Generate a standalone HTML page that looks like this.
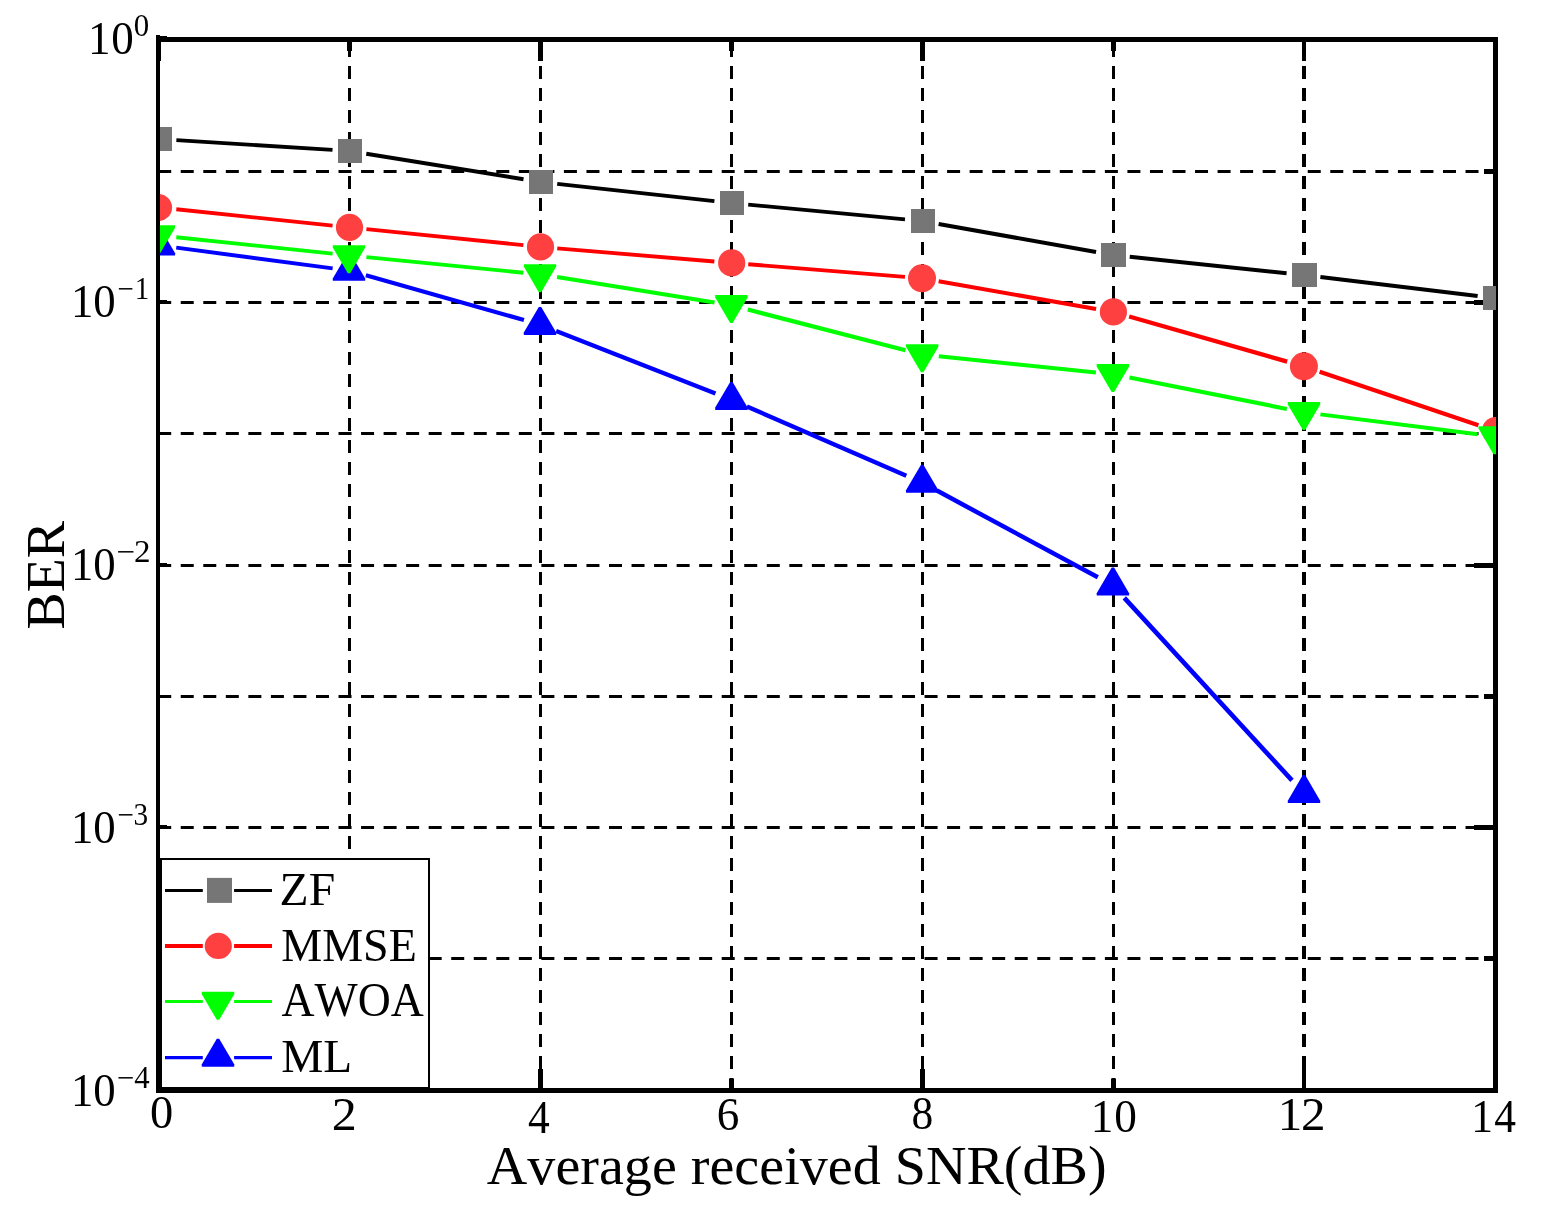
<!DOCTYPE html>
<html lang="en">
<head>
<meta charset="utf-8">
<title>BER versus average received SNR</title>
<style>
html,body{margin:0;padding:0;background:#fff;}
body{width:1557px;height:1222px;overflow:hidden;}
svg{display:block;}
text{font-family:"Liberation Serif","DejaVu Serif",serif;fill:#000;font-kerning:none;font-variant-ligatures:none;white-space:pre;}
</style>
</head>
<body>
<svg width="1557" height="1222" viewBox="0 0 1557 1222">
<rect width="1557" height="1222" fill="#fff"/>
<defs><clipPath id="plot"><rect x="160" y="39" width="1336" height="1052"/></clipPath></defs>
<g id="grid" fill="none" stroke="#000">
<path d="M158.2 171.5H1494" stroke-width="3" stroke-dasharray="13 9.54"/>
<path d="M158.2 302.5H1494" stroke-width="3" stroke-dasharray="13 9.54"/>
<path d="M158.2 433.5H1494" stroke-width="3" stroke-dasharray="13 9.54"/>
<path d="M158.2 565.5H1494" stroke-width="3" stroke-dasharray="13 9.54"/>
<path d="M158.2 696.5H1494" stroke-width="3" stroke-dasharray="13 9.54"/>
<path d="M158.2 827.5H1494" stroke-width="3" stroke-dasharray="13 9.54"/>
<path d="M158.2 958.5H1494" stroke-width="3" stroke-dasharray="13 9.54"/>
<path d="M349.5 44V1089" stroke-width="3" stroke-dasharray="13 9"/>
<path d="M540.5 44V1089" stroke-width="3" stroke-dasharray="13 9"/>
<path d="M731.5 44V1089" stroke-width="3" stroke-dasharray="13 9"/>
<path d="M922.5 44V1089" stroke-width="3" stroke-dasharray="13 9"/>
<path d="M1113.5 44V1089" stroke-width="3" stroke-dasharray="13 9"/>
<path d="M1304 44V1089" stroke-width="4" stroke-dasharray="13 9"/>
</g>
<g id="axes" fill="#000">
<rect x="156" y="35" width="4" height="1058"/>
<rect x="1493" y="37" width="5" height="1056"/>
<rect x="156" y="37" width="1342" height="5"/>
<rect x="156" y="1088" width="1342" height="5"/>
<rect x="160" y="36" width="7" height="2"/>
<rect x="160" y="42" width="1" height="19"/>
<rect x="347" y="42" width="5" height="9"/>
<rect x="347" y="1078.4" width="5" height="9.6"/>
<rect x="538" y="42" width="5" height="19"/>
<rect x="538" y="1069" width="5" height="19"/>
<rect x="729" y="42" width="5" height="9"/>
<rect x="729" y="1078.4" width="5" height="9.6"/>
<rect x="920" y="42" width="5" height="19"/>
<rect x="920" y="1069" width="5" height="19"/>
<rect x="1111" y="42" width="5" height="9"/>
<rect x="1111" y="1078.4" width="5" height="9.6"/>
<rect x="1302" y="42" width="4" height="19"/>
<rect x="1302" y="1069" width="4" height="19"/>
<rect x="1484" y="169" width="9" height="5"/>
<rect x="160" y="300" width="7" height="4"/>
<rect x="1474" y="300" width="19" height="5"/>
<rect x="1484" y="431" width="9" height="5"/>
<rect x="160" y="563" width="7" height="4"/>
<rect x="1474" y="563" width="19" height="5"/>
<rect x="1484" y="694" width="9" height="5"/>
<rect x="160" y="825" width="7" height="4"/>
<rect x="1474" y="825" width="19" height="5"/>
<rect x="1484" y="956" width="9" height="5"/>
</g>
<g id="series" clip-path="url(#plot)">
<g id="series-ml">
<g fill="none" stroke="#0000ff"><path d="M176.25 247.63L332.65 268.37" stroke-width="3.97"/><path d="M365.86 275.24L523.94 320.06" stroke-width="4.22"/><path d="M556.12 330.91L715.48 393.49" stroke-width="4.36"/><path d="M746.89 406.47L906.31 475.73" stroke-width="4.4"/><path d="M936.86 490.57L1097.84 577.33" stroke-width="4.49"/><path d="M1124.3 597.92L1292 780.38" stroke-width="4.62"/></g>
<path d="M142.7 255.6H175.1V253.2L160.1 227.6H157.7L142.7 253.2Z" fill="#0000ff"/>
<path d="M332.8 280.8H365.2V278.4L350.2 252.8H347.8L332.8 278.4Z" fill="#0000ff"/>
<path d="M523.8 334.9H556.2V332.5L541.2 306.9H538.8L523.8 332.5Z" fill="#0000ff"/>
<path d="M715.2 409.9H747.6V407.5L732.6 381.9H730.2L715.2 407.5Z" fill="#0000ff"/>
<path d="M906 492.7H938.4V490.3L923.4 464.7H921L906 490.3Z" fill="#0000ff"/>
<path d="M1096.7 595.6H1129.1V593.2L1114.1 567.6H1111.7L1096.7 593.2Z" fill="#0000ff"/>
<path d="M1287.8 803.1H1320.2V800.7L1305.2 775.1H1302.8L1287.8 800.7Z" fill="#0000ff"/>
</g>
<g id="series-zf">
<g fill="none" stroke="#000"><path d="M176.37 140.07L332.53 149.93" stroke-width="3.84"/><path d="M366.28 153.73L523.52 179.27" stroke-width="4.03"/><path d="M557.2 183.86L714.4 201.14" stroke-width="3.93"/><path d="M748.22 204.6L904.98 219.4" stroke-width="3.9"/><path d="M938.64 223.98L1096.06 252.02" stroke-width="4.05"/><path d="M1129.71 256.77L1286.59 273.23" stroke-width="3.92"/><path d="M1320.38 277.03L1477.62 295.97" stroke-width="3.95"/></g>
<rect x="148" y="127" width="24" height="24" fill="#767676"/>
<rect x="338" y="139" width="24" height="24" fill="#767676"/>
<rect x="529" y="170" width="24" height="24" fill="#767676"/>
<rect x="720" y="191" width="24" height="24" fill="#767676"/>
<rect x="911" y="209" width="24" height="24" fill="#767676"/>
<rect x="1101" y="243" width="25" height="24" fill="#767676"/>
<rect x="1292" y="263" width="25" height="24" fill="#767676"/>
<rect x="1483" y="286" width="24" height="24" fill="#767676"/>
</g>
<g id="series-mmse">
<g fill="none" stroke="#ff0000"><path d="M176.31 209.27L332.59 225.63" stroke-width="3.92"/><path d="M366.41 229.13L523.39 245.17" stroke-width="3.91"/><path d="M557.24 248.32L714.36 261.48" stroke-width="3.88"/><path d="M748.24 264.27L904.96 276.93" stroke-width="3.87"/><path d="M938.64 281.25L1096.06 308.95" stroke-width="4.05"/><path d="M1129.15 316.56L1287.15 361.64" stroke-width="4.22"/><path d="M1319.61 371.72L1478.39 425.18" stroke-width="4.29"/></g>
<circle cx="158.5" cy="207.5" r="13.6" fill="#ff4040"/>
<circle cx="349.5" cy="227.4" r="13.6" fill="#ff4040"/>
<circle cx="540.5" cy="246.9" r="13.6" fill="#ff4040"/>
<circle cx="731.7" cy="262.9" r="13.6" fill="#ff4040"/>
<circle cx="922" cy="278.3" r="14" fill="#ff4040"/>
<circle cx="1113.4" cy="311.9" r="13.6" fill="#ff4040"/>
<circle cx="1303.9" cy="366.3" r="14" fill="#ff4040"/>
<circle cx="1495.5" cy="430.6" r="13.6" fill="#ff4040"/>
</g>
<g id="series-awoa">
<g fill="none" stroke="#00ff00"><path d="M176.31 237.27L332.59 253.63" stroke-width="3.92"/><path d="M366.42 257.08L523.38 272.72" stroke-width="3.91"/><path d="M557.08 277.11L714.52 302.59" stroke-width="4.03"/><path d="M747.76 309.55L905.44 350.25" stroke-width="4.18"/><path d="M938.81 356.25L1095.89 372.55" stroke-width="3.92"/><path d="M1129.47 377.61L1286.83 408.89" stroke-width="4.09"/><path d="M1320.37 414.34L1477.63 434.26" stroke-width="3.96"/></g>
<path d="M142.7 225.3H175.1V227.7L160.1 253.3H157.7L142.7 227.7Z" fill="#00ff00"/>
<path d="M332.8 245.2H365.2V247.6L350.2 273.2H347.8L332.8 247.6Z" fill="#00ff00"/>
<path d="M523.8 264.2H556.2V266.6L541.2 292.2H538.8L523.8 266.6Z" fill="#00ff00"/>
<path d="M715.2 295.1H747.6V297.5L732.6 323.1H730.2L715.2 297.5Z" fill="#00ff00"/>
<path d="M906 344.3H938.4V346.7L923.4 372.3H921L906 346.7Z" fill="#00ff00"/>
<path d="M1096.7 364.1H1129.1V366.5L1114.1 392.1H1111.7L1096.7 366.5Z" fill="#00ff00"/>
<path d="M1287.8 402H1320.2V404.4L1305.2 430H1302.8L1287.8 404.4Z" fill="#00ff00"/>
<path d="M1478.5 426.2H1510.9V428.6L1495.9 454.2H1493.5L1478.5 428.6Z" fill="#00ff00"/>
</g>
</g>
<g id="legend">
<rect x="161" y="859" width="268" height="229" fill="#fff" stroke="#000" stroke-width="2"/>
<path d="M165 890.5H202.8M234.1 890.5H272" fill="none" stroke="#000" stroke-width="3.1"/>
<path d="M165 946H202.8M234.1 946H272" fill="none" stroke="#ff0000" stroke-width="3.9"/>
<path d="M165 1001.5H202.8M234.1 1001.5H272" fill="none" stroke="#00ff00" stroke-width="3.2"/>
<path d="M165 1057.6H202.8M234.1 1057.6H272" fill="none" stroke="#0000ff" stroke-width="3.1"/>
<rect x="207" y="877.9" width="25" height="25" fill="#767676"/>
<ellipse cx="218.3" cy="945.9" rx="13.6" ry="13.1" fill="#ff4040"/>
<path d="M201.8 991.8H234.2V994.2L219.2 1019.8H216.8L201.8 994.2Z" fill="#00ff00"/>
<path d="M201.8 1066.7H234.2V1064.3L219.2 1038.7H216.8L201.8 1064.3Z" fill="#0000ff"/>
<text transform="translate(279.61 905.3) scale(1.0053 1)" font-size="47.4">ZF</text>
<text transform="translate(281.27 961.1) scale(0.9708 1)" font-size="47.4">MMSE</text>
<text transform="translate(281.44 1015.8) scale(0.9530 1)" font-size="48">AWOA</text>
<text transform="translate(281.23 1071.9) scale(0.9972 1)" font-size="47.4">ML</text>
</g>
<g id="xticks">
<text transform="translate(0 1127.53) scale(0.9823 1)" x="152.64" font-size="47.3">0</text>
<text transform="translate(0 1130.3) scale(1.0597 1)" x="313" font-size="47.3">2</text>
<text transform="translate(0 1132.8) scale(0.9200 1)" x="573.9" font-size="47.3">4</text>
<text transform="translate(0 1129.83) scale(0.9556 1)" x="750.07" font-size="47.3">6</text>
<text transform="translate(0 1128.73) scale(0.9200 1)" x="990.84" font-size="47.3">8</text>
<text transform="translate(0 1131.53) scale(0.9574 1)" x="1139.33 1163.91" font-size="47.3">10</text>
<text transform="translate(0 1130.3) scale(1.0386 1)" x="1230.35 1252.75" font-size="47.3">12</text>
<text transform="translate(0 1132.4) scale(0.9200 1)" x="1599.14 1624.17" font-size="47.3">14</text>
</g>
<g id="yticks">
<text transform="translate(0 53.7) scale(0.9750 1)" x="90.31 114.14" font-size="46.2">10</text>
<text transform="translate(0 35.7) scale(1.0097 1)" x="132.44" font-size="30.6">0</text>
<text transform="translate(0 316.9) scale(0.9699 1)" x="73.27 96.19" font-size="46.2">10</text>
<text transform="translate(0 298.9) scale(0.9500 1)" x="123.46 141.76" font-size="30.6">−1</text>
<text transform="translate(0 579.9) scale(0.9699 1)" x="73.27 96.19" font-size="46.2">10</text>
<text transform="translate(0 561.9) scale(1.0800 1)" x="107.56 124.05" font-size="30.6">−2</text>
<text transform="translate(0 842.8) scale(0.9699 1)" x="73.27 96.19" font-size="46.2">10</text>
<text transform="translate(0 824.8) scale(0.9574 1)" x="122.43 139.43" font-size="30.6">−3</text>
<text transform="translate(0 1106) scale(0.9699 1)" x="73.27 96.19" font-size="46.2">10</text>
<text transform="translate(0 1087.9) scale(1.0072 1)" x="115.96 133.33" font-size="30.6">−4</text>
</g>
<g id="titles">
<text transform="translate(486.84 1183.6) scale(1.0144 1)" font-size="55.3">Average received SNR(dB)</text>
<text transform="translate(64.4 629.52) rotate(-90) scale(1.0068 1)" font-size="55.5">BER</text>
</g>
</svg>
</body>
</html>
